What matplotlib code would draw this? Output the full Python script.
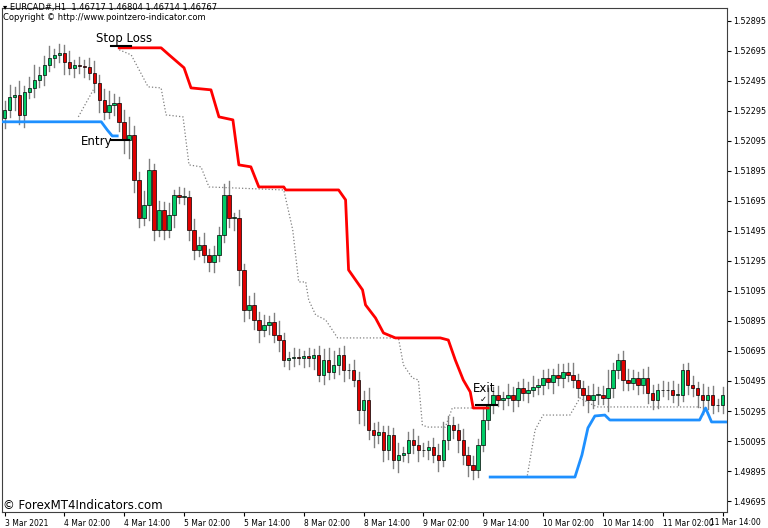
import matplotlib.pyplot as plt
from matplotlib.patches import Rectangle
import numpy as np

# H1 closes, EURCAD 3 Mar 14:00 -> 11 Mar 14:00
closes = [1.52302, 1.52388, 1.52402, 1.52268, 1.52422, 1.52448, 1.52502, 1.52535, 1.52602, 1.52648, 1.52668, 1.52682,
          1.52622, 1.52582, 1.52602, 1.52595, 1.52588, 1.52548, 1.52482, 1.52368, 1.52288, 1.52335, 1.52348, 1.52222,
          1.52102, 1.52135, 1.51835, 1.51582, 1.51668, 1.51902, 1.51502, 1.51635, 1.51502, 1.51602, 1.51735, 1.51722,
          1.51722, 1.51502, 1.51368, 1.51402, 1.51335, 1.51288, 1.51335, 1.51468, 1.51735, 1.51582, 1.51582, 1.51235,
          1.50968, 1.51002, 1.50902, 1.50835, 1.50868, 1.50888, 1.50802, 1.50768, 1.50635, 1.50648, 1.50655, 1.50648,
          1.50662, 1.50648, 1.50668, 1.50535, 1.50635, 1.50555, 1.50602, 1.50668, 1.50568, 1.50568, 1.50502, 1.50302,
          1.50368, 1.50168, 1.50135, 1.50155, 1.50035, 1.50135, 1.49968, 1.50002, 1.50015, 1.50102, 1.50068, 1.50035,
          1.50035, 1.50055, 1.50002, 1.49968, 1.50102, 1.50202, 1.50168, 1.50102, 1.50002, 1.49935, 1.49902, 1.50068,
          1.50235, 1.50335, 1.50402, 1.50368, 1.50382, 1.50402, 1.50368, 1.50448, 1.50415, 1.50435, 1.50455, 1.50468,
          1.50515, 1.50488, 1.50535, 1.50515, 1.50555, 1.50535, 1.50502, 1.50448, 1.50402, 1.50368, 1.50402, 1.50402,
          1.50382, 1.50448, 1.50568, 1.50635, 1.50502, 1.50482, 1.50515, 1.50468, 1.50515, 1.50415, 1.50368, 1.50435,
          1.50435, 1.50435, 1.50402, 1.50402, 1.50568, 1.50468, 1.50448, 1.50402, 1.50368, 1.50402, 1.50335, 1.50335,
          1.50402]
first_open = 1.52250
# wick lengths in pips
wick_up = [6, 8, 5, 9, 4, 7, 10, 5, 6, 8, 4, 6, 5, 7, 3, 5, 4, 6, 8, 5, 7, 9, 6, 4,
           8, 12, 6, 5, 9, 7, 4, 6, 5, 8, 3, 5, 6, 4, 7, 5, 8, 4, 6, 5, 7, 9, 3, 5,
           4, 6, 8, 5, 7, 4, 6, 9, 5, 4, 6, 5, 3, 5, 4, 6, 7, 8, 9, 5, 6, 4, 7, 5,
           6, 8, 5, 7, 4, 6, 5, 8, 4, 5, 7, 6, 5, 4, 6, 7, 12, 6, 5, 4, 7, 5, 6, 4,
           8, 11, 5, 6, 4, 7, 5, 4, 6, 5, 7, 4, 5, 6, 4, 7, 5, 6, 8, 4, 5, 6, 7, 5,
           6, 12, 5, 4, 6, 7, 5, 4, 6, 7, 5, 4, 6, 5, 6, 7, 4, 5, 6, 4, 7, 5, 6, 4, 5]
wick_dn = [7, 5, 9, 6, 8, 4, 6, 5, 7, 4, 6, 5, 8, 4, 6, 5, 7, 4, 6, 8, 5, 4, 7, 6,
           9, 12, 8, 6, 5, 10, 7, 4, 6, 5, 8, 4, 5, 7, 6, 4, 5, 6, 7, 4, 5, 6, 8, 10,
           7, 5, 6, 8, 4, 6, 5, 7, 4, 6, 5, 4, 6, 5, 7, 4, 6, 5, 4, 6, 7, 5, 4, 9,
           10, 6, 8, 5, 7, 6, 5, 8, 4, 6, 5, 7, 4, 6, 5, 7, 4, 6, 5, 8, 6, 7, 6, 5,
           4, 6, 5, 4, 6, 5, 7, 4, 5, 6, 4, 5, 6, 4, 7, 5, 6, 4, 5, 6, 7, 8, 5, 6,
           4, 9, 6, 5, 7, 5, 4, 6, 5, 7, 6, 5, 4, 6, 5, 7, 4, 6, 5, 8, 9, 6, 5, 4, 5]

# indicator lines: (bar index, price)
sl_x = [23, 31.4, 33, 36, 37.4, 41.4, 43, 45.8, 47, 49.4, 51, 56, 56.4, 67, 68.4, 69, 71.8, 72.4, 74.4, 76, 78.4, 87.4, 89, 90.4, 92, 93.4, 94, 97]
sl_y = [1.52715, 1.52715, 1.52668, 1.52582, 1.52448, 1.52435, 1.52255, 1.52235, 1.51935, 1.51922, 1.51788, 1.51788, 1.51768, 1.51768,
        1.51702, 1.51235, 1.51102, 1.51002, 1.50915, 1.50815, 1.50782, 1.50782, 1.50768, 1.50635, 1.50502, 1.50422, 1.50315, 1.50315]
blue1_x = [-0.6, 19.4, 20.6, 21.6, 22.6]
blue1_y = [1.52222, 1.52222, 1.52168, 1.52128, 1.52128]
blue2_x = [97.4, 114.4, 115.8, 117, 118.4, 120.4, 121.4, 139.4, 140.6, 141.8, 144.8]
blue2_y = [1.49855, 1.49855, 1.50002, 1.50182, 1.50262, 1.50268, 1.50235, 1.50235, 1.50315, 1.50222, 1.50222]
gray1_x = [14.8, 17.8]
gray1_y = [1.52255, 1.52435]
gray2_x = [23, 25.4, 28.8, 31.4, 32.4, 35.8, 37, 39.4, 41, 56, 57.8, 59, 60.4, 61, 62.4, 64.4, 66.8, 79, 80, 81.8, 83, 83.8, 84.8, 88.4, 89.8, 96.4]
gray2_y = [1.52702, 1.52668, 1.52455, 1.52448, 1.52268, 1.52255, 1.51935, 1.51922, 1.51788, 1.51768, 1.51502, 1.51155, 1.51155, 1.51035,
           1.50935, 1.50902, 1.50782, 1.50782, 1.50602, 1.50515, 1.50502, 1.50202, 1.50188, 1.50188, 1.50315, 1.50315]
gray3_x = [97.8, 104.8, 106.4, 108, 113.4, 115.4, 118, 119, 139, 140]
gray3_y = [1.49855, 1.49855, 1.50168, 1.50268, 1.50268, 1.50382, 1.50335, 1.50322, 1.50322, 1.50315]

y_ticks = [1.52895 - 0.002 * k for k in range(17)]
x_tick_pos = [0, 12, 24, 36, 48, 60, 72, 84, 96, 108, 120, 132, 144]
x_tick_lab = ['3 Mar 2021', '4 Mar 02:00', '4 Mar 14:00', '5 Mar 02:00', '5 Mar 14:00', '8 Mar 02:00', '8 Mar 14:00',
              '9 Mar 02:00', '9 Mar 14:00', '10 Mar 02:00', '10 Mar 14:00', '11 Mar 02:00', '11 Mar 14:00']

fig = plt.figure(figsize=(7.68, 5.28), dpi=100)
ax = fig.add_axes([0.002, 0.0303, 0.944, 0.955])
ax.set_xlim(-0.6, 144.8)
ax.set_ylim(1.49622, 1.52982)

opens = [first_open] + closes[:-1]
for i, (o, c) in enumerate(zip(opens, closes)):
    hi = max(o, c) + wick_up[i] * 0.0001
    lo = min(o, c) - wick_dn[i] * 0.0001
    ax.plot([i, i], [lo, hi], color='#808080', lw=1, zorder=2)
    col = '#00CC66' if c >= o else '#E00000'
    h = max(abs(c - o), 0.00003)
    ax.add_patch(Rectangle((i - 0.35, min(o, c)), 0.7, h, facecolor=col, edgecolor='black', lw=0.5, zorder=3))

ax.plot(gray1_x, gray1_y, color='#808080', ls=':', lw=0.9, zorder=1)
ax.plot(gray2_x, gray2_y, color='#808080', ls=':', lw=0.9, zorder=1)
ax.plot(gray3_x, gray3_y, color='#808080', ls=':', lw=0.9, zorder=1)
ax.plot(sl_x, sl_y, color='#FF0000', lw=2, zorder=4)
ax.plot(blue1_x, blue1_y, color='#1E90FF', lw=2, zorder=4)
ax.plot(blue2_x, blue2_y, color='#1E90FF', lw=2, zorder=4)

# trade markers
ax.plot([21.4, 25.4], [1.52728, 1.52728], color='black', lw=1.5, zorder=5)
ax.text(18.4, 1.52775, 'Stop Loss', fontsize=8.5, ha='left', va='center')
ax.plot([21.4, 25.0], [1.52102, 1.52102], color='black', lw=1.5, zorder=5)
ax.text(15.4, 1.52088, 'Entry', fontsize=8.5, ha='left', va='center')
ax.plot([94.6, 98.8], [1.50335, 1.50335], color='black', lw=1.5, zorder=5)
ax.text(94.0, 1.50442, 'Exit', fontsize=8.5, ha='left', va='center')
ax.text(95.4, 1.50375, '\u2713', fontsize=6, ha='left', va='center')

ax.yaxis.tick_right()
ax.set_yticks(y_ticks)
ax.set_yticklabels([f'{v:.5f}' for v in y_ticks], fontsize=5.8)
ax.set_xticks(x_tick_pos)
ax.set_xticklabels(x_tick_lab[:-1] + [''], fontsize=5.5, ha='left')
# last date label shifted left so it stays inside the picture
ax.text(141.4, -0.012, x_tick_lab[-1], fontsize=5.5, ha='left', va='top',
        transform=ax.get_xaxis_transform())
ax.tick_params(direction='out', length=3, pad=2)
for s in ax.spines.values():
    s.set_color('#404040')

fig.text(0.004, 0.985, '\u25BE EURCAD#,H1  1.46717 1.46804 1.46714 1.46767', fontsize=6, va='center')
fig.text(0.004, 0.966, 'Copyright \u00a9 http://www.pointzero-indicator.com', fontsize=6, va='center')
fig.text(0.004, 0.043, '\u00a9 ForexMT4Indicators.com', fontsize=8.5, va='center')

fig.savefig('out.png', dpi=100)
